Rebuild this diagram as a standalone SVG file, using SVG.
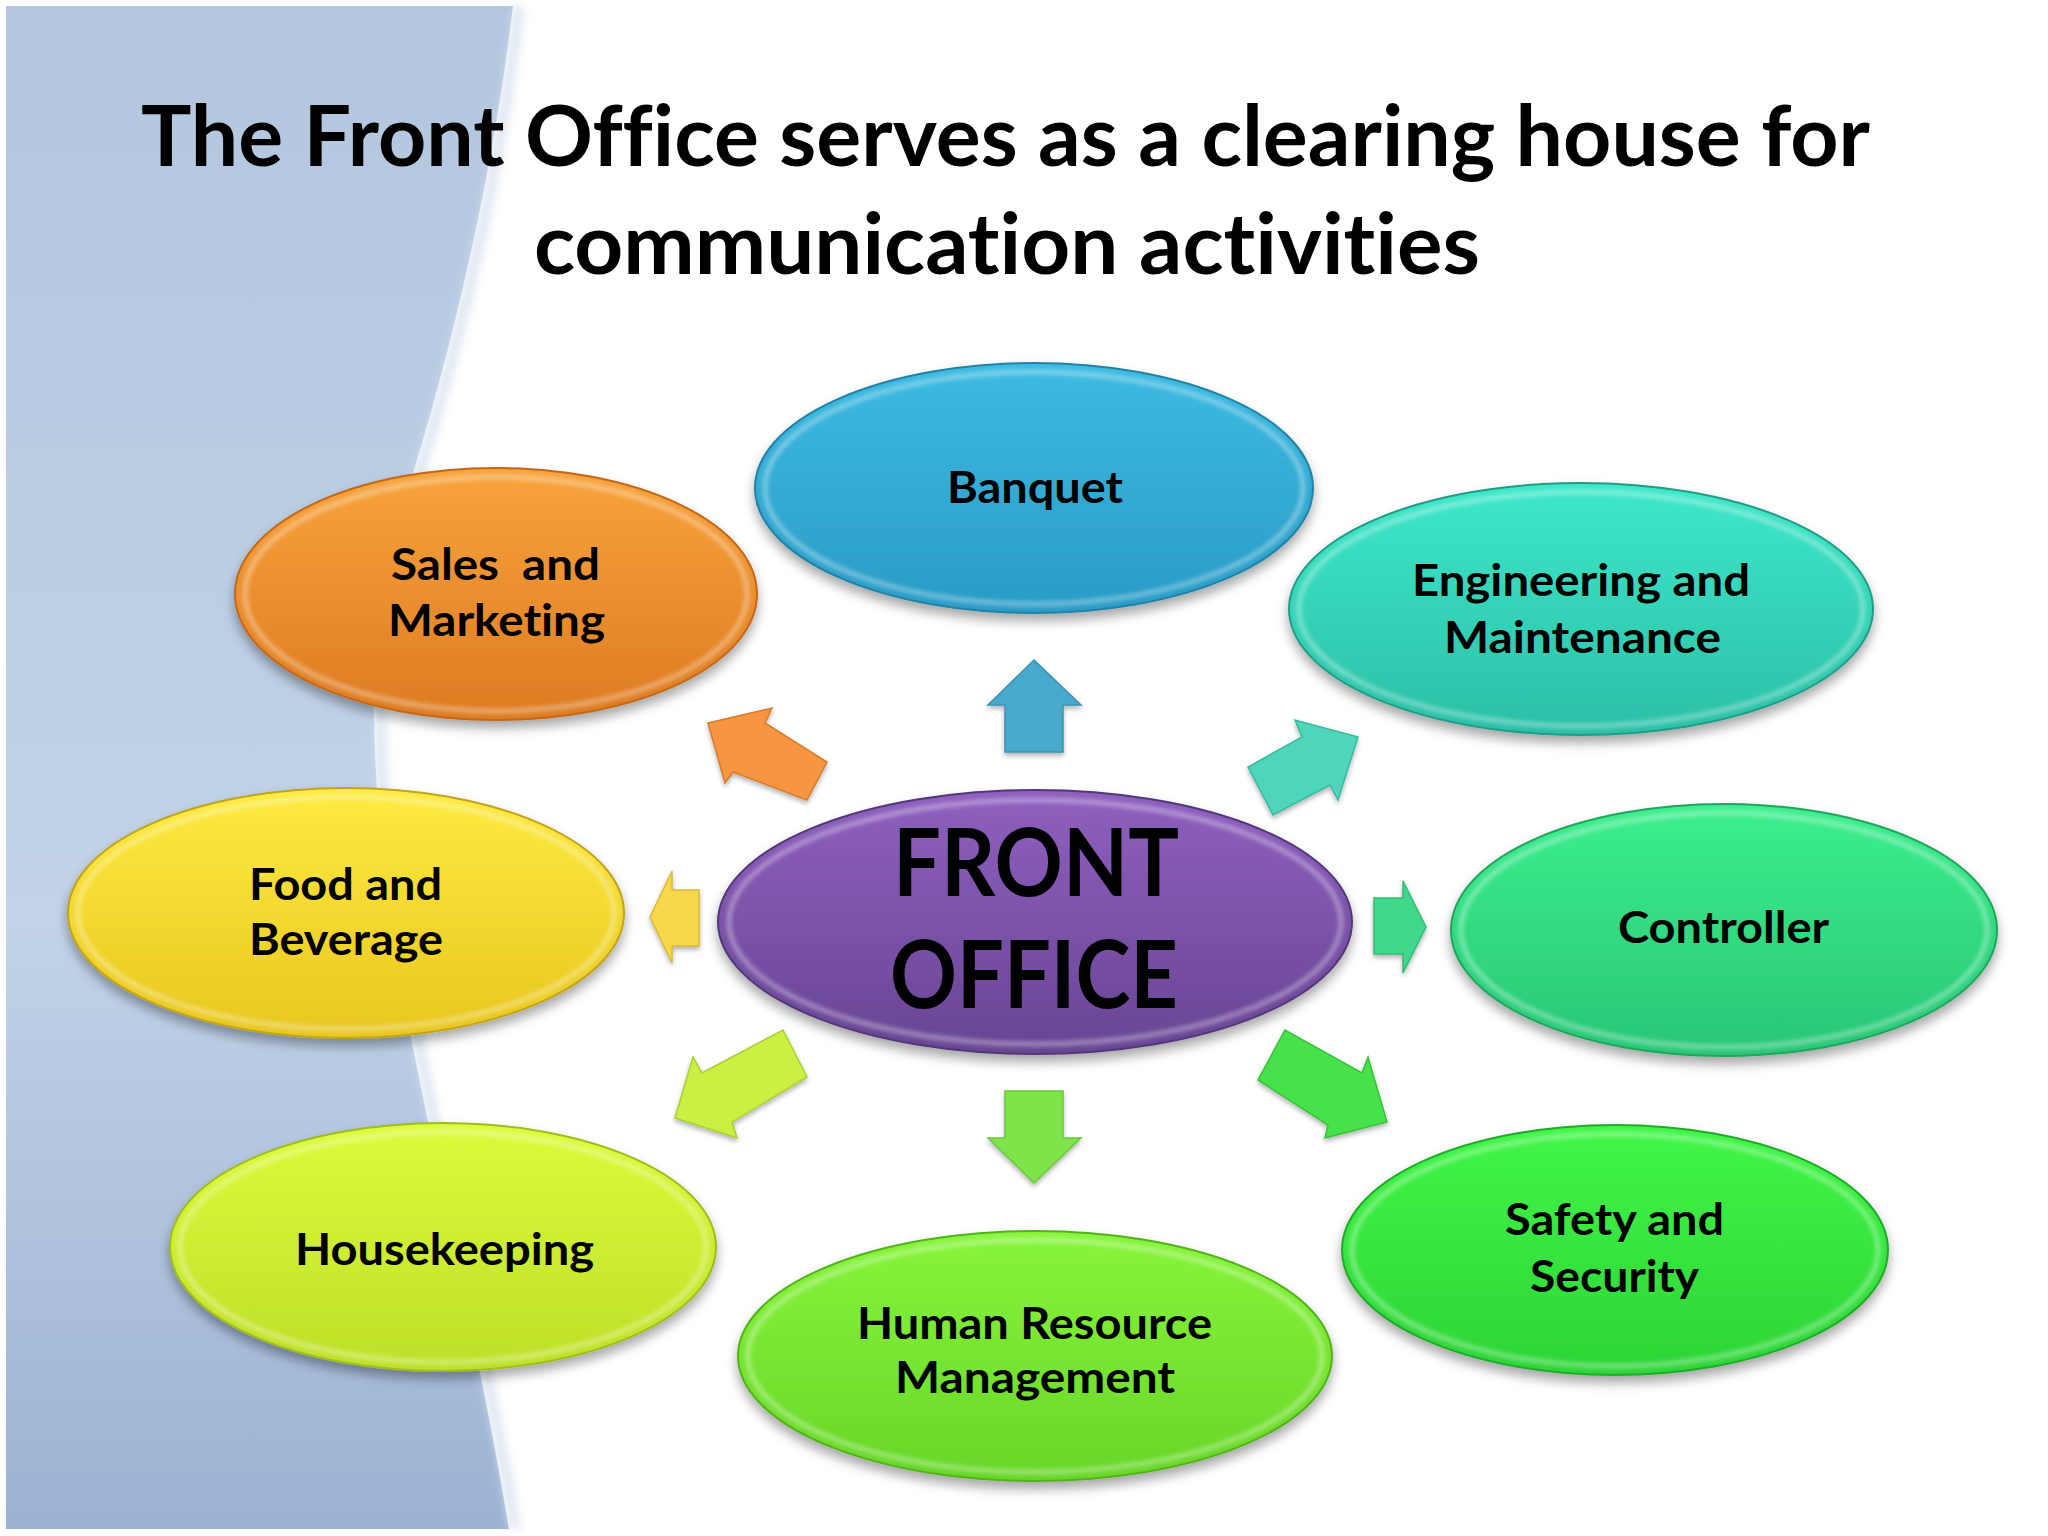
<svg xmlns="http://www.w3.org/2000/svg" width="2048" height="1536" viewBox="0 0 2048 1536">
<defs>
  <linearGradient id="panel" x1="0" y1="0" x2="0" y2="1">
    <stop offset="0" stop-color="#b3c6de"/>
    <stop offset="0.6" stop-color="#c2d3e8"/>
    <stop offset="1" stop-color="#9cb2d2"/>
  </linearGradient>
  <filter id="shadow" x="-20%" y="-20%" width="140%" height="150%">
    <feGaussianBlur in="SourceAlpha" stdDeviation="6"/>
    <feOffset dx="0" dy="7" result="b"/>
    <feComponentTransfer><feFuncA type="linear" slope="0.35"/></feComponentTransfer>
    <feMerge><feMergeNode/><feMergeNode in="SourceGraphic"/></feMerge>
  </filter>
  <filter id="ashadow" x="-20%" y="-20%" width="140%" height="140%">
    <feGaussianBlur in="SourceAlpha" stdDeviation="2.5"/>
    <feOffset dx="0" dy="3"/>
    <feComponentTransfer><feFuncA type="linear" slope="0.3"/></feComponentTransfer>
    <feMerge><feMergeNode/><feMergeNode in="SourceGraphic"/></feMerge>
  </filter>
  <filter id="soft"><feGaussianBlur stdDeviation="2"/></filter>
  <filter id="soft2"><feGaussianBlur stdDeviation="4"/></filter>
  <linearGradient id="gSales" x1="0" y1="0" x2="0" y2="1"><stop offset="0" stop-color="#f8a43c"/><stop offset="1" stop-color="#de7a22"/></linearGradient>
  <linearGradient id="gBanq" x1="0" y1="0" x2="0" y2="1"><stop offset="0" stop-color="#3dbbe2"/><stop offset="1" stop-color="#2a9bc6"/></linearGradient>
  <linearGradient id="gEng" x1="0" y1="0" x2="0" y2="1"><stop offset="0" stop-color="#3ee8ca"/><stop offset="1" stop-color="#2bbfa6"/></linearGradient>
  <linearGradient id="gFood" x1="0" y1="0" x2="0" y2="1"><stop offset="0" stop-color="#fdeb42"/><stop offset="1" stop-color="#e9c61f"/></linearGradient>
  <linearGradient id="gFO" x1="0" y1="0" x2="0" y2="1"><stop offset="0" stop-color="#8f60c0"/><stop offset="1" stop-color="#684593"/></linearGradient>
  <linearGradient id="gCtrl" x1="0" y1="0" x2="0" y2="1"><stop offset="0" stop-color="#3cef8e"/><stop offset="1" stop-color="#29c676"/></linearGradient>
  <linearGradient id="gHK" x1="0" y1="0" x2="0" y2="1"><stop offset="0" stop-color="#ddfb3b"/><stop offset="1" stop-color="#bedf29"/></linearGradient>
  <linearGradient id="gHR" x1="0" y1="0" x2="0" y2="1"><stop offset="0" stop-color="#88f53b"/><stop offset="1" stop-color="#67d628"/></linearGradient>
  <linearGradient id="gSafe" x1="0" y1="0" x2="0" y2="1"><stop offset="0" stop-color="#41f647"/><stop offset="1" stop-color="#2dd437"/></linearGradient>
</defs>
<style>
  .node { filter: url(#shadow); }
  .rim { fill: none; stroke: #ffffff; stroke-opacity: 0.35; stroke-width: 5; filter: url(#soft); }
  .lbl { font-family: Lato, "Open Sans", "Liberation Sans", sans-serif; font-weight: bold; font-size: 43px; fill: #000000; font-variant-ligatures: none; font-feature-settings: "liga" 0, "clig" 0; }
  .big { font-size: 93px; }
  .title { font-family: Lato, "Open Sans", "Liberation Sans", sans-serif; font-weight: bold; font-size: 84px; fill: #000000; font-variant-ligatures: none; font-feature-settings: "liga" 0, "clig" 0; }
  .arrow { filter: url(#ashadow); stroke-width: 1.5; stroke-linejoin: miter; }
</style>

<rect x="0" y="0" width="2048" height="1536" fill="#ffffff"/>

<!-- background panel -->
<path d="M6,6 L513,6 C490,200 440,400 385,560 C365,680 375,820 395,950 C420,1100 480,1350 509,1529 L6,1529 Z" fill="url(#panel)"/>
<path d="M513,6 C490,200 440,400 385,560 C365,680 375,820 395,950 C420,1100 480,1350 509,1529" fill="none" stroke="#d6e1ef" stroke-width="12" transform="translate(6,0)" opacity="0.75" filter="url(#soft2)"/>

<!-- title -->
<text class="title" x="141" y="166" textLength="1729" lengthAdjust="spacingAndGlyphs">The Front Office serves as a clearing house for</text>
<text class="title" x="534" y="274" textLength="946" lengthAdjust="spacingAndGlyphs">communication activities</text>

<!-- connectors (arrows) -->
<g id="connectors">
  <polygon class="arrow" fill="#4aa9cb" stroke="#3b93b4" points="1034,660 1081,705 1063,705 1063,752 1005,752 1005,705 988,705"/>
  <polygon class="arrow" fill="#7ee44a" stroke="#68c83a" points="1005,1091 1063,1091 1063,1138 1081,1138 1034,1183 988,1138 1005,1138"/>
  <polygon class="arrow" fill="#f8d84a" stroke="#d8b838" points="650,917 672,871 672,890 699,890 699,946 672,946 672,963"/>
  <polygon class="arrow" fill="#40d98c" stroke="#32bb76" points="1374,898 1403,898 1403,881 1426,927 1403,973 1403,954 1374,954"/>
  <polygon class="arrow" fill="#f8953f" stroke="#d67c2c" points="708,723 772,708 765,723 827,762 807,800 733,772 725,783"/>
  <polygon class="arrow" fill="#4dd6b9" stroke="#3cb89e" points="1358,737 1295,720 1302,737 1248,767 1273,815 1330,785 1338,800"/>
  <polygon class="arrow" fill="#c9f042" stroke="#a9cf32" points="675,1118 693,1057 702,1073 783,1030 807,1077 732,1122 737,1138"/>
  <polygon class="arrow" fill="#46e24a" stroke="#37c23c" points="1387,1122 1368,1057 1362,1073 1285,1030 1258,1080 1328,1125 1325,1138"/>
</g>

<g id="node-sales">
  <ellipse class="node" cx="496" cy="594" rx="261" ry="126" fill="url(#gSales)" stroke="#c2681a" stroke-width="2"/>
  <ellipse class="rim" cx="496" cy="594" rx="251" ry="117"/>
  <text class="lbl" x="391" y="580" textLength="209" lengthAdjust="spacingAndGlyphs" xml:space="preserve">Sales  and</text>
  <text class="lbl" x="388" y="636" textLength="217" lengthAdjust="spacingAndGlyphs">Marketing</text>
</g>

<g id="node-banquet">
  <ellipse class="node" cx="1034" cy="488" rx="279" ry="125" fill="url(#gBanq)" stroke="#2282a6" stroke-width="2"/>
  <ellipse class="rim" cx="1034" cy="488" rx="269" ry="116"/>
  <text class="lbl" x="947" y="503" textLength="176" lengthAdjust="spacingAndGlyphs">Banquet</text>
</g>

<g id="node-engineering">
  <ellipse class="node" cx="1581" cy="609" rx="292" ry="126" fill="url(#gEng)" stroke="#209c86" stroke-width="2"/>
  <ellipse class="rim" cx="1581" cy="609" rx="282" ry="117"/>
  <text class="lbl" x="1412" y="596" textLength="338" lengthAdjust="spacingAndGlyphs">Engineering and</text>
  <text class="lbl" x="1444" y="653" textLength="277" lengthAdjust="spacingAndGlyphs">Maintenance</text>
</g>

<g id="node-food">
  <ellipse class="node" cx="346" cy="913" rx="278" ry="125" fill="url(#gFood)" stroke="#c2a41a" stroke-width="2"/>
  <ellipse class="rim" cx="346" cy="913" rx="268" ry="116"/>
  <text class="lbl" x="249" y="900" textLength="193" lengthAdjust="spacingAndGlyphs">Food and</text>
  <text class="lbl" x="249" y="955" textLength="194" lengthAdjust="spacingAndGlyphs">Beverage</text>
</g>

<g id="node-frontoffice">
  <ellipse class="node" cx="1035" cy="922" rx="317" ry="132" fill="url(#gFO)" stroke="#523877" stroke-width="2"/>
  <ellipse class="rim" cx="1035" cy="922" rx="306" ry="122"/>
  <text class="lbl big" x="893" y="896" textLength="286" lengthAdjust="spacingAndGlyphs">FRONT</text>
  <text class="lbl big" x="890" y="1008" textLength="288" lengthAdjust="spacingAndGlyphs">OFFICE</text>
</g>

<g id="node-controller">
  <ellipse class="node" cx="1724" cy="930" rx="273" ry="126" fill="url(#gCtrl)" stroke="#20a45e" stroke-width="2"/>
  <ellipse class="rim" cx="1724" cy="930" rx="263" ry="117"/>
  <text class="lbl" x="1618" y="943" textLength="211" lengthAdjust="spacingAndGlyphs">Controller</text>
</g>

<g id="node-housekeeping">
  <ellipse class="node" cx="443" cy="1247" rx="273" ry="124" fill="url(#gHK)" stroke="#9dbd1e" stroke-width="2"/>
  <ellipse class="rim" cx="443" cy="1247" rx="263" ry="115"/>
  <text class="lbl" x="295" y="1265" textLength="299" lengthAdjust="spacingAndGlyphs">Housekeeping</text>
</g>

<g id="node-hr">
  <ellipse class="node" cx="1035" cy="1356" rx="297" ry="125" fill="url(#gHR)" stroke="#52b21e" stroke-width="2"/>
  <ellipse class="rim" cx="1035" cy="1356" rx="287" ry="116"/>
  <text class="lbl" x="857" y="1339" textLength="355" lengthAdjust="spacingAndGlyphs">Human Resource</text>
  <text class="lbl" x="895" y="1393" textLength="280" lengthAdjust="spacingAndGlyphs">Management</text>
</g>

<g id="node-safety">
  <ellipse class="node" cx="1615" cy="1250" rx="273" ry="125" fill="url(#gSafe)" stroke="#22aa2a" stroke-width="2"/>
  <ellipse class="rim" cx="1615" cy="1250" rx="263" ry="116"/>
  <text class="lbl" x="1505" y="1235" textLength="219" lengthAdjust="spacingAndGlyphs">Safety and</text>
  <text class="lbl" x="1530" y="1292" textLength="169" lengthAdjust="spacingAndGlyphs">Security</text>
</g>
</svg>
